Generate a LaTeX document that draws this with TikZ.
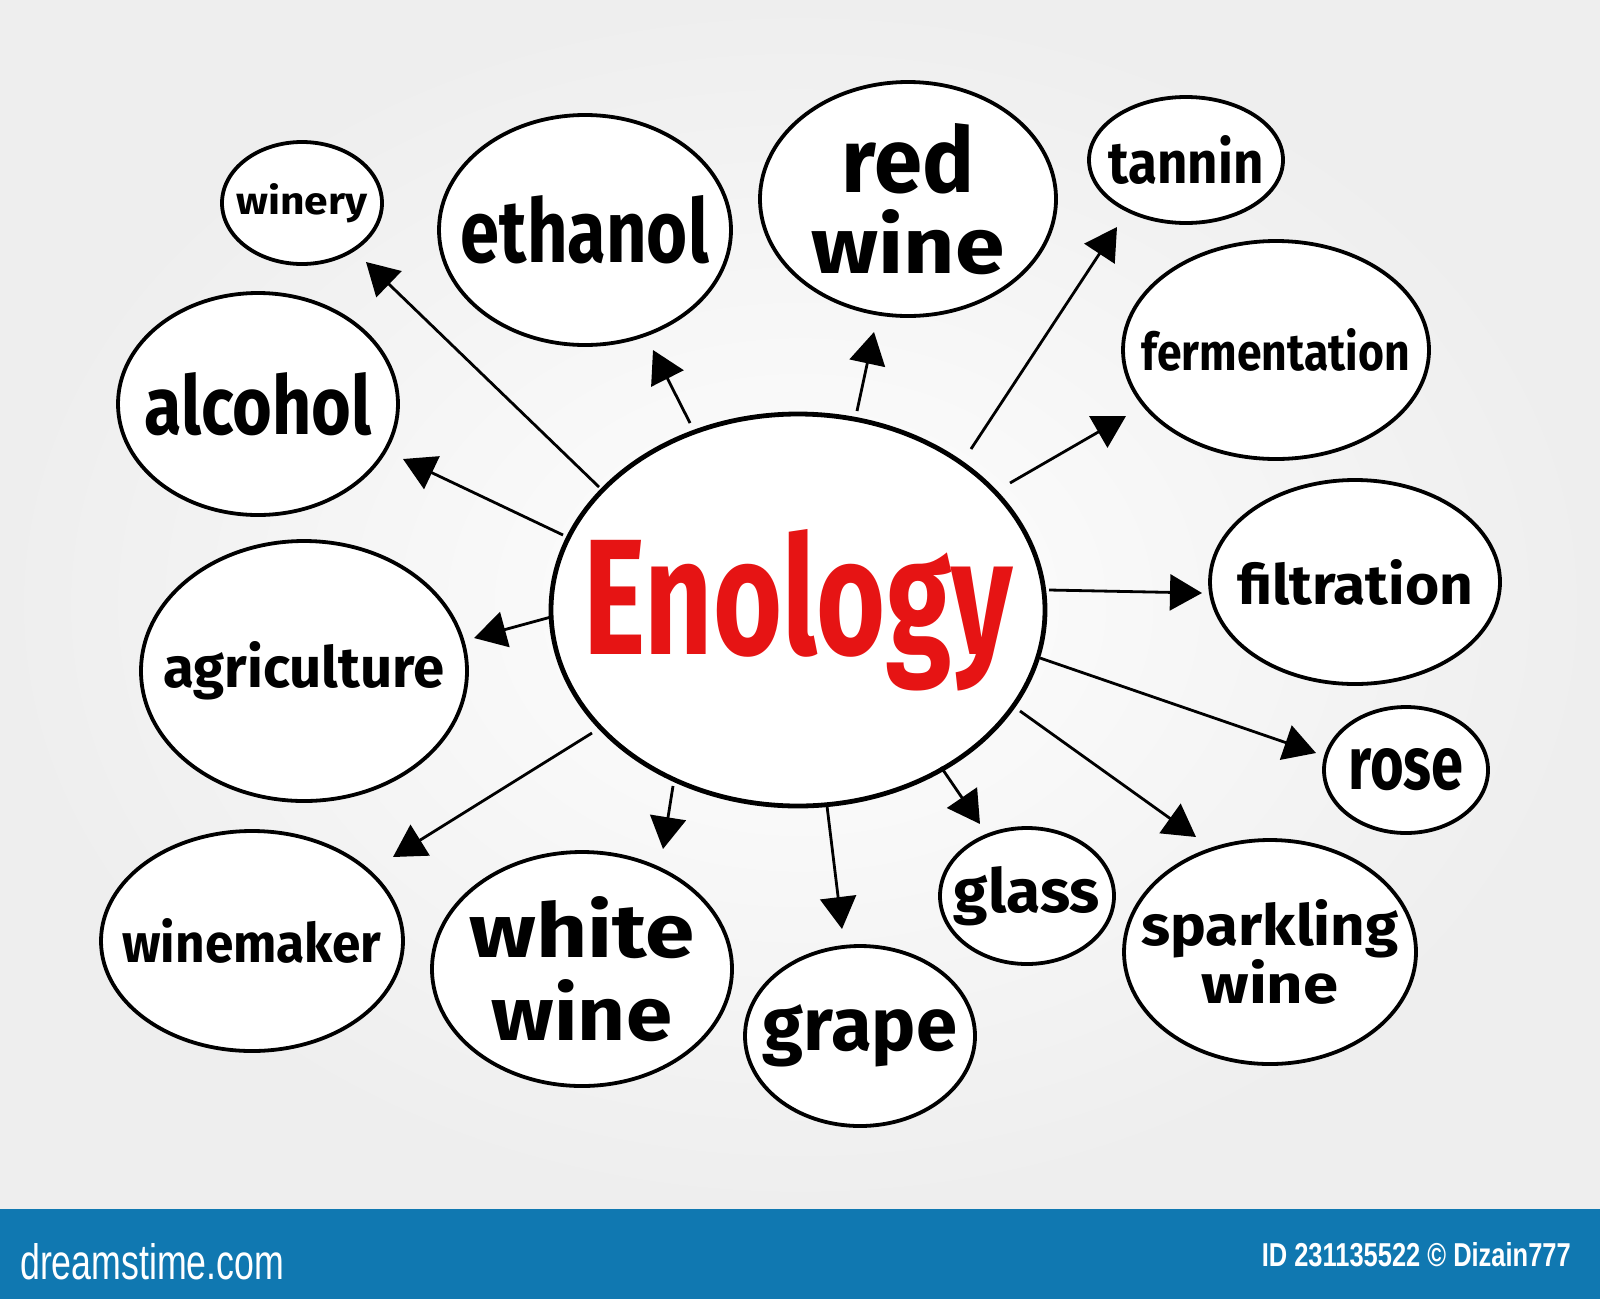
\documentclass[tikz,border=0pt]{standalone}
\usepackage{fontspec}
\setmainfont{Fira Sans}
\newfontfamily\barfont{Liberation Sans}
\usetikzlibrary{shapes.geometric,arrows.meta}
\definecolor{barblue}{RGB}{16,120,177}
\definecolor{enored}{RGB}{230,20,20}
\definecolor{bggray}{RGB}{238,238,238}
\newcommand\hw[3]{\resizebox{#1pt}{#2pt}{#3}}
\tikzset{
  bub/.style={draw, ellipse, line width=3.8pt, inner sep=0pt, fill=white},
  txt/.style={font=\bfseries, text=black, align=center, inner sep=0pt},
  arr/.style={line width=2.8pt, -{Triangle[length=32pt,width=36pt]}},
}
\newcommand\bubble[6]{%
  \node[bub, minimum width=2*#4pt, minimum height=2*#5pt,
        label={[txt]center:{#6}}] (#1) at (#2,#3) {};}
\begin{document}
\begin{tikzpicture}[x=1pt,y=-1pt]
\useasboundingbox (0,0) rectangle (1600,1299);
\shade[inner color=white, outer color=bggray] (0,0) rectangle (1600,1209);
\fill[barblue] (0,1209) rectangle (1600,1299);
\node[anchor=west, inner sep=0pt, text=white] (dt) at (20,1262) {\barfont\hw{264}{36}{dreamstime.com}};
\node[anchor=east, inner sep=0pt, text=white] (id) at (1571,1255) {\barfont\bfseries\hw{309}{24}{ID 231135522 © Dizain777}};

% central
\node[bub, line width=4.8pt, minimum width=494pt, minimum height=392pt,
      label={[txt, text=enored]center:{\hw{429}{125}{Enology}}}] (c) at (798,610) {};

\bubble{winery}{302}{203}{80}{61}{\hw{131}{31}{winery}}
\bubble{ethanol}{585}{230}{146}{115}{\hw{248}{67}{ethanol}}
\bubble{redwine}{908}{199}{148}{117}{\hw{132}{69}{red}\\[14pt]\hw{193}{64}{wine}}
\bubble{tannin}{1186}{160}{97}{63}{\hw{155}{48}{tannin}}
\bubble{ferm}{1276}{350}{153}{109}{\hw{268}{42}{fermentation}}
\bubble{filt}{1355}{582}{145}{102}{\hw{236}{45}{filtration}}
\bubble{rose}{1406}{770}{82}{63}{\hw{115}{41}{rose}}
\bubble{spark}{1270}{952}{146}{112}{\hw{257}{46}{sparkling}\\[1pt]\hw{137}{44}{wine}}
\bubble{glass}{1027}{896}{87}{68}{\hw{146}{46}{glass}}
\bubble{grape}{860}{1036}{115}{90}{\hw{194}{46}{grape}}
\bubble{white}{582}{969}{150}{117}{\hw{225}{61}{white}\\[20pt]\hw{180}{61}{wine}}
\bubble{maker}{252}{941}{151}{110}{\hw{259}{44}{winemaker}}
\bubble{agri}{304}{671}{163}{130}{\hw{281}{46}{agriculture}}
\bubble{alc}{258}{404}{140}{111}{\hw{227}{62}{alcohol}}

% connector ends
\coordinate (s1) at (599,487);  \coordinate (t1) at (366,262);
\coordinate (s2) at (690,423);  \coordinate (t2) at (653,350);
\coordinate (s3) at (857,411);  \coordinate (t3) at (874,332);
\coordinate (s4) at (971,449);  \coordinate (t4) at (1117,227);
\coordinate (s5) at (1010,483); \coordinate (t5) at (1126,416);
\coordinate (s6) at (1049,590); \coordinate (t6) at (1202,593);
\coordinate (s7) at (1040,658); \coordinate (t7) at (1316,753);
\coordinate (s8) at (1020,711); \coordinate (t8) at (1196,837);
\coordinate (s9) at (941,767);  \coordinate (t9) at (980,824);
\coordinate (s10) at (827,806); \coordinate (t10) at (842,929);
\coordinate (s11) at (673,786); \coordinate (t11) at (663,849);
\coordinate (s12) at (592,733); \coordinate (t12) at (393,857);
\coordinate (s13) at (551,617); \coordinate (t13) at (474,638);
\coordinate (s14) at (563,535); \coordinate (t14) at (403,459);

\foreach \i in {1,...,14} { \draw[arr] (s\i) -- (t\i); }
\end{tikzpicture}
\end{document}
